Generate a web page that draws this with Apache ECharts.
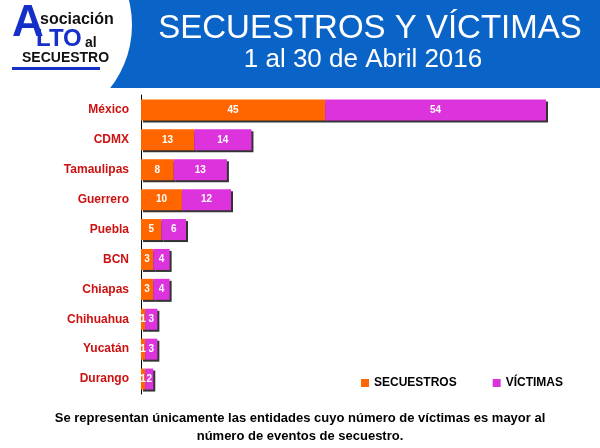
<!DOCTYPE html>
<html><head><meta charset="utf-8">
<script src="https://cdn.jsdelivr.net/npm/echarts@6/dist/echarts.min.js"></script>
<style>html,body{margin:0;padding:0;background:#fff}#chart{width:600px;height:448px}</style>
</head><body><div id="chart"></div>
<script>
var estados = ['México','CDMX','Tamaulipas','Guerrero','Puebla','BCN','Chiapas','Chihuahua','Yucatán','Durango'];
var secuestros = [45,13,8,10,5,3,3,1,1,1];
var victimas = [54,14,13,12,6,4,4,3,3,2];

var chart = echarts.init(document.getElementById('chart'));
var barStyle = function (c) {
	return {color:c, shadowColor:'rgba(0,0,0,0.8)', shadowOffsetX:2, shadowOffsetY:2, shadowBlur:0};
};
var lbl = {show:true, position:'inside', color:'#fff', fontWeight:'bold', fontSize:10, fontFamily:'Liberation Sans'};
chart.setOption({
	animation:false,
	graphic:[
		{type:'rect', shape:{x:100,y:0,width:500,height:88}, style:{fill:'#0a64c8'}},
		{type:'circle', shape:{cx:30,cy:25,r:102}, style:{fill:'#fff'}},
		{type:'rect', shape:{x:0,y:88,width:600,height:20}, style:{fill:'#fff'}},
		{type:'text', x:12, y:2, style:{text:'A', fill:'#1530c8', font:'bold 44px "Liberation Sans"'}},
		{type:'text', x:40, y:12, style:{text:'sociación', fill:'#111', font:'bold 16px "Liberation Sans"'}},
		{type:'text', x:36, y:27, style:{text:'LTO', fill:'#1530c8', font:'bold 24px "Liberation Sans"'}},
		{type:'text', x:85, y:36, style:{text:'al', fill:'#111', font:'bold 14px "Liberation Sans"'}},
		{type:'text', x:22, y:51, style:{text:'SECUESTRO', fill:'#111', font:'bold 14px "Liberation Sans"'}},
		{type:'rect', shape:{x:12,y:67,width:88,height:3}, style:{fill:'#1530c8'}},
		{type:'text', x:370, y:12, style:{text:'SECUESTROS Y VÍCTIMAS', fill:'#fff', font:'33px "Liberation Sans"', align:'center'}},
		{type:'text', x:363, y:47, style:{text:'1 al 30 de Abril 2016', fill:'#fff', font:'26px "Liberation Sans"', align:'center'}},
		{type:'text', x:300, y:409, style:{text:'Se representan únicamente las entidades cuyo número de víctimas es mayor al\nnúmero de eventos de secuestro.', fill:'#000', font:'bold 13px "Liberation Sans"', align:'center', lineHeight:18}}
	],
	legend:{
		left:356, top:372, itemWidth:8, itemHeight:8, itemGap:36, icon:'rect',
		textStyle:{color:'#000', fontWeight:'bold', fontSize:12, fontFamily:'Liberation Sans'},
		data:['SECUESTROS','VÍCTIMAS']
	},
	grid:{left:141, right:9, top:95, bottom:54},
	xAxis:{type:'value', min:0, max:110, show:false},
	yAxis:{
		type:'category', inverse:true, data:estados,
		axisLine:{lineStyle:{color:'#000'}}, axisTick:{show:false},
		axisLabel:{color:'#cc1111', fontWeight:'bold', fontSize:12, fontFamily:'Liberation Sans', margin:12}
	},
	series:[
		{name:'SECUESTROS', type:'bar', stack:'t', barWidth:21, data:secuestros, itemStyle:barStyle('#ff6600'), label:lbl},
		{name:'VÍCTIMAS', type:'bar', stack:'t', barWidth:21, data:victimas, itemStyle:barStyle('#dd33dd'), label:lbl}
	]
});
</script></body></html>
